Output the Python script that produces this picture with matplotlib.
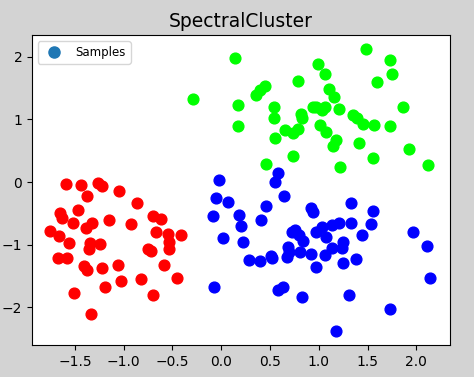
import matplotlib
matplotlib.use("Agg")
import matplotlib.pyplot as plt
from matplotlib.lines import Line2D

red_x = [-1.595, -1.44, -1.26, -1.22, -1.38, -1.05, -0.865, -1.47, -1.65, -1.63, -1.52,
         -1.33, -1.39, -1.15, -0.93, -0.70, -0.62, -0.67, -0.55, -0.41, -0.54, -0.54,
         -0.75, -0.72, -1.76, -1.66, -1.56, -1.35, -1.24, -1.36, -1.67, -1.58, -1.41,
         -1.38, -1.22, -1.06, -0.585, -0.45, -0.82, -1.03, -1.19, -1.51, -0.70, -1.34]
red_y = [-0.03, -0.04, -0.02, -0.07, -0.22, -0.14, -0.33, -0.44, -0.50, -0.58, -0.65,
         -0.65, -0.73, -0.60, -0.67, -0.54, -0.59, -0.79, -0.83, -0.84, -0.95, -1.07,
         -1.07, -1.10, -0.78, -0.86, -0.97, -0.97, -0.99, -1.07, -1.22, -1.21, -1.34,
         -1.40, -1.37, -1.33, -1.32, -1.53, -1.54, -1.58, -1.68, -1.77, -1.80, -2.10]

blue_x = [-0.02, -0.05, 0.07, -0.08, 0.18, 0.20, 0.02, 0.22, 0.28, 0.40, 0.51, 0.52,
          0.46, 0.41, 0.58, 0.55, 0.64, 0.92, 0.935, 0.72, 0.76, 0.795, 0.84, 0.685,
          0.67, 0.69, 0.805, 0.92, 0.975, 0.975, 1.03, 1.07, 1.13, 1.205, 1.33, 1.33,
          1.56, 1.535, 1.44, 1.25, 1.24, 1.13, 1.06, 1.245, 1.38, 1.96, 2.11, 2.14,
          1.73, 1.31, 0.83, 0.58, 0.63, -0.07, 1.18]
blue_y = [0.03, -0.26, -0.32, -0.54, -0.52, -0.70, -0.90, -0.96, -1.24, -1.26, -1.18,
          -1.21, -0.39, -0.61, 0.14, 0.005, -0.23, -0.42, -0.48, -0.79, -0.77, -0.85,
          -0.94, -1.03, -1.20, -1.11, -1.11, -1.15, -1.36, -0.79, -0.71, -0.88, -0.69,
          -0.65, -0.65, -0.34, -0.46, -0.67, -0.84, -0.95, -1.06, -1.05, -1.16, -1.29,
          -1.23, -0.80, -1.02, -1.53, -2.03, -1.80, -1.83, -1.72, -1.68, -1.67, -2.38]

green_x = [1.48, 1.73, 1.75, 0.136, 0.99, 1.06, 0.79, 1.60, 0.45, 0.40, 0.36, -0.29,
           1.10, 1.16, 0.17, 0.54, 0.54, 0.815, 0.83, 0.935, 0.975, 1.03, 1.06, 1.21,
           1.35, 1.39, 1.86, 0.17, 0.65, 0.73, 0.79, 0.55, 1.01, 1.07, 1.45, 1.57,
           1.73, 1.18, 1.15, 1.41, 1.92, 0.73, 0.46, 1.215, 1.56, 2.12]
green_y = [2.12, 1.95, 1.73, 1.98, 1.89, 1.73, 1.61, 1.60, 1.54, 1.47, 1.39, 1.32,
           1.48, 1.36, 1.23, 1.20, 1.03, 1.08, 1.03, 1.20, 1.20, 1.15, 1.19, 1.16,
           1.07, 1.03, 1.20, 0.89, 0.83, 0.79, 0.85, 0.71, 0.91, 0.80, 0.925, 0.91,
           0.89, 0.67, 0.58, 0.63, 0.52, 0.415, 0.29, 0.235, 0.39, 0.27]

title = "SpectralCluster"
legend_label = "Samples"

fig = plt.figure(figsize=(4.74, 3.77), dpi=100, facecolor="#d3d3d3")
ax = fig.add_axes([0.0675, 0.085, 0.881, 0.821])
ax.scatter(red_x, red_y, s=60, color="#ff0000")
ax.scatter(blue_x, blue_y, s=60, color="#0000ff")
ax.scatter(green_x, green_y, s=60, color="#00ff00")
ax.set_xlim(-1.94, 2.34)
ax.set_ylim(-2.6, 2.34)
ax.set_xticks([-1.5, -1.0, -0.5, 0.0, 0.5, 1.0, 1.5, 2.0])
ax.set_yticks([-2, -1, 0, 1, 2])
ax.set_title(title, fontsize=13.5)
handle = Line2D([], [], marker="o", linestyle="none", markersize=8, color="#1f77b4")
ax.legend([handle], [legend_label], loc="upper left", fontsize=8.5)
fig.savefig("out.png", dpi=100, facecolor=fig.get_facecolor())
